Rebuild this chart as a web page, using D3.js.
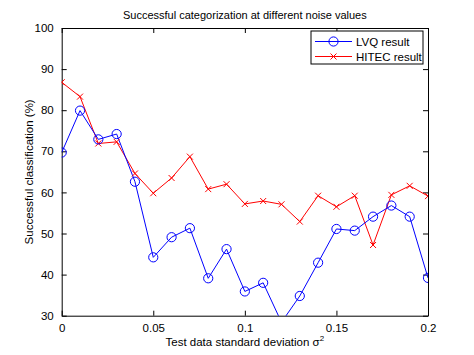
<!DOCTYPE html>
<html><head><meta charset="utf-8">
<script src="https://cdn.jsdelivr.net/npm/d3@7"></script>
<style>
html,body{margin:0;padding:0;background:#fff;}
svg{display:block;font-family:"Liberation Sans",Arial,sans-serif;}
</style>
</head><body>
<script>
const noise = [0,0.01,0.02,0.03,0.04,0.05,0.06,0.07,0.08,0.09,0.10,0.11,0.12,0.13,0.14,0.15,0.16,0.17,0.18,0.19,0.20];
const lvq   = [69.7,79.9,72.9,74.2,62.6,44.2,49.1,51.3,39.1,46.2,35.9,38.0,28.4,34.8,42.9,51.1,50.7,54.1,56.8,54.1,39.2];
const hitec = [86.8,83.3,71.9,72.3,64.6,59.8,63.5,68.7,60.8,62.0,57.2,57.9,57.1,52.9,59.2,56.5,59.2,47.2,59.4,61.6,59.1];
const xTicks = [0,0.05,0.1,0.15,0.2];
const xTickLabels = ["0","0.05","0.1","0.15","0.2"];
const yTicks = [30,40,50,60,70,80,90,100];
const seriesNames = ["LVQ result","HITEC result"];

const W=474,H=355;
const L=61.7,R=428,T=28,B=315.7;
const svg=d3.select("body").append("svg").attr("width",W).attr("height",H);
const x=d3.scaleLinear().domain([0,0.2]).range([L,R]);
const y=d3.scaleLinear().domain([30,100]).range([B,T]);

svg.append("defs").append("clipPath").attr("id","clip")
  .append("rect").attr("x",L).attr("y",T).attr("width",R-L).attr("height",B-T);

const tl=5;
const gB=svg.append("g").attr("transform",`translate(0,${B})`)
  .call(d3.axisBottom(x).tickValues(xTicks).tickFormat((d,i)=>xTickLabels[i]).tickSizeInner(-tl).tickSizeOuter(0).tickPadding(8));
const gT=svg.append("g").attr("transform",`translate(0,${T})`)
  .call(d3.axisTop(x).tickValues(xTicks).tickFormat("").tickSizeInner(-tl).tickSizeOuter(0));
const gL=svg.append("g").attr("transform",`translate(${L},0)`)
  .call(d3.axisLeft(y).tickValues(yTicks).tickSizeInner(-tl).tickSizeOuter(0).tickPadding(8));
const gR=svg.append("g").attr("transform",`translate(${R},0)`)
  .call(d3.axisRight(y).tickValues(yTicks).tickFormat("").tickSizeInner(-tl).tickSizeOuter(0));
[gB,gT,gL,gR].forEach(g=>{
  g.selectAll("path.domain").attr("stroke","#000").attr("stroke-width",1);
  g.selectAll(".tick line").attr("stroke","#000").attr("stroke-width",1);
  g.selectAll("text").attr("font-size",11.5).attr("fill","#000").attr("font-family","Liberation Sans,Arial,sans-serif");
});

const line=d3.line().x((d,i)=>x(noise[i])).y(d=>y(d));
const plot=svg.append("g").attr("clip-path","url(#clip)");
plot.append("path").datum(hitec).attr("d",line).attr("fill","none").attr("stroke","#ff0000").attr("stroke-width",1);
plot.append("path").datum(lvq).attr("d",line).attr("fill","none").attr("stroke","#0000ff").attr("stroke-width",1);
const s=3;
plot.selectAll("path.xm").data(hitec).enter().append("path")
  .attr("d",(d,i)=>{const cx=x(noise[i]),cy=y(d);return `M${cx-s},${cy-s}L${cx+s},${cy+s}M${cx-s},${cy+s}L${cx+s},${cy-s}`;})
  .attr("stroke","#ff0000").attr("stroke-width",1).attr("fill","none");
plot.selectAll("circle.om").data(lvq).enter().append("circle")
  .attr("cx",(d,i)=>x(noise[i])).attr("cy",d=>y(d)).attr("r",4.6)
  .attr("fill","none").attr("stroke","#0000ff").attr("stroke-width",1);

const lg=svg.append("g");
lg.append("rect").attr("x",311).attr("y",31).attr("width",112).attr("height",33)
  .attr("fill","#fff").attr("stroke","#000").attr("stroke-width",1);
const ly=[41.5,56.5], cols=["#0000ff","#ff0000"];
seriesNames.forEach((nm,i)=>{
  lg.append("line").attr("x1",315).attr("x2",352).attr("y1",ly[i]).attr("y2",ly[i]).attr("stroke",cols[i]).attr("stroke-width",1);
  if(i===0) lg.append("circle").attr("cx",333.5).attr("cy",ly[i]).attr("r",4.6).attr("fill","none").attr("stroke",cols[i]);
  else lg.append("path").attr("d",`M${333.5-s},${ly[i]-s}L${333.5+s},${ly[i]+s}M${333.5-s},${ly[i]+s}L${333.5+s},${ly[i]-s}`).attr("stroke",cols[i]);
  lg.append("text").attr("x",356).attr("y",ly[i]).attr("dy","0.35em").attr("font-size",11.5).text(nm);
});

svg.append("text").attr("x",(L+R)/2).attr("y",19).attr("text-anchor","middle").attr("font-size",11).text("Successful categorization at different noise values");
const xl=svg.append("text").attr("x",(L+R)/2).attr("y",346).attr("text-anchor","middle").attr("font-size",11.5);
xl.append("tspan").text("Test data standard deviation ");
xl.append("tspan").text("σ");
xl.append("tspan").attr("dy",-5).attr("font-size",8).text("2");
svg.append("text").attr("transform",`translate(33,${(T+B)/2}) rotate(-90)`).attr("text-anchor","middle").attr("font-size",11.5).text("Successful classification (%)");
</script>
</body></html>
